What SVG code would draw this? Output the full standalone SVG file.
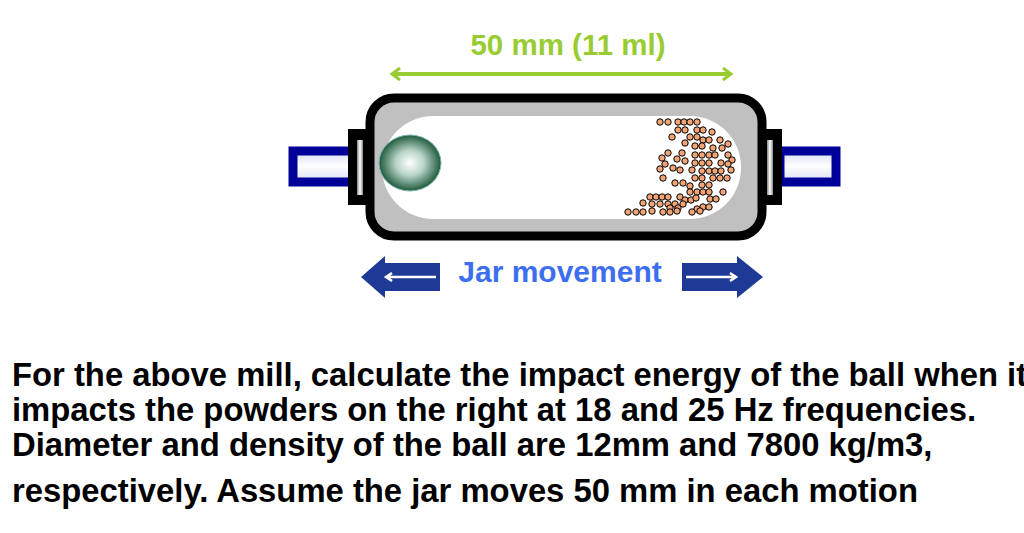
<svg xmlns="http://www.w3.org/2000/svg" width="1024" height="533" viewBox="0 0 1024 533">
<style>
.q{font-family:"Liberation Sans",Arial,sans-serif;font-weight:bold;font-size:32.8px;fill:#000}
.p{fill:#f2a474;stroke:#000;stroke-width:1}
</style>
<defs>
<radialGradient id="ball" cx="0.5" cy="0.5" r="0.5"><stop offset="0" stop-color="#ffffff"/><stop offset="0.45" stop-color="#b8d4c8"/><stop offset="1" stop-color="#1f5a3c"/></radialGradient>
<linearGradient id="shaft" x1="0" y1="0" x2="0" y2="1"><stop offset="0" stop-color="#d8dcf4"/><stop offset="0.5" stop-color="#ffffff"/><stop offset="1" stop-color="#d8dcf4"/></linearGradient>
<linearGradient id="strip" x1="0" y1="0" x2="1" y2="0"><stop offset="0" stop-color="#888"/><stop offset="0.5" stop-color="#fff"/><stop offset="1" stop-color="#888"/></linearGradient>
<marker id="ga" markerWidth="12" markerHeight="14" refX="9" refY="7" orient="auto-start-reverse" markerUnits="userSpaceOnUse" viewBox="0 0 12 14"><path d="M1,1 L9,7 L1,13" fill="none" stroke="#99cc33" stroke-width="3"/></marker>
</defs>
<g id="left-shaft"><rect x="293" y="151" width="60" height="31" fill="url(#shaft)" stroke="#000099" stroke-width="9"/></g>
<g id="right-shaft"><rect x="780" y="151" width="56" height="31" fill="url(#shaft)" stroke="#000099" stroke-width="9"/></g>
<g id="left-collar"><rect x="348" y="129" width="20" height="76" fill="#000"/><rect x="357" y="140" width="6" height="55" fill="url(#strip)"/></g>
<g id="right-collar"><rect x="764" y="129" width="18" height="76" fill="#000"/><rect x="767" y="140" width="6" height="55" fill="url(#strip)"/></g>
<g id="jar">
<rect x="370" y="98" width="392" height="138" rx="24" fill="#c0c0c0" stroke="#000" stroke-width="9"/>
<rect x="382" y="116" width="359" height="103" rx="51" fill="#fff"/>
</g>
<g id="ball-node"><ellipse cx="410" cy="163" rx="31" ry="28" fill="url(#ball)" stroke="#7fb8b0" stroke-width="1"/></g>
<g id="powder">
<circle class="p" cx="660" cy="122" r="3.2"/><circle class="p" cx="668" cy="122" r="3.2"/><circle class="p" cx="678" cy="122" r="3.2"/><circle class="p" cx="684" cy="122" r="3.2"/><circle class="p" cx="690" cy="122" r="3.2"/><circle class="p" cx="697" cy="122" r="3.2"/>
<circle class="p" cx="678" cy="130" r="3.2"/><circle class="p" cx="685" cy="130" r="3.2"/><circle class="p" cx="697" cy="130" r="3.2"/><circle class="p" cx="703" cy="130" r="3.2"/><circle class="p" cx="712" cy="132" r="3.2"/>
<circle class="p" cx="672" cy="137" r="3.2"/><circle class="p" cx="690" cy="137" r="3.2"/><circle class="p" cx="697" cy="137" r="3.2"/><circle class="p" cx="703" cy="140" r="3.2"/><circle class="p" cx="709" cy="140" r="3.2"/><circle class="p" cx="720" cy="140" r="3.2"/>
<circle class="p" cx="685" cy="143" r="3.2"/><circle class="p" cx="695" cy="146" r="3.2"/><circle class="p" cx="702" cy="146" r="3.2"/><circle class="p" cx="713" cy="148" r="3.2"/><circle class="p" cx="722" cy="148" r="3.2"/><circle class="p" cx="728" cy="144" r="3.2"/>
<circle class="p" cx="668" cy="153" r="3.2"/><circle class="p" cx="682" cy="153" r="3.2"/><circle class="p" cx="695" cy="155" r="3.2"/><circle class="p" cx="702" cy="155" r="3.2"/><circle class="p" cx="709" cy="155" r="3.2"/><circle class="p" cx="715" cy="155" r="3.2"/><circle class="p" cx="728" cy="155" r="3.2"/>
<circle class="p" cx="662" cy="158" r="3.2"/><circle class="p" cx="677" cy="159" r="3.2"/><circle class="p" cx="685" cy="161" r="3.2"/><circle class="p" cx="732" cy="160" r="3.2"/>
<circle class="p" cx="665" cy="164" r="3.2"/><circle class="p" cx="695" cy="163" r="3.2"/><circle class="p" cx="702" cy="163" r="3.2"/><circle class="p" cx="709" cy="163" r="3.2"/><circle class="p" cx="721" cy="163" r="3.2"/><circle class="p" cx="728" cy="164" r="3.2"/>
<circle class="p" cx="660" cy="169" r="3.2"/><circle class="p" cx="673" cy="168" r="3.2"/><circle class="p" cx="680" cy="170" r="3.2"/><circle class="p" cx="692" cy="170" r="3.2"/><circle class="p" cx="702" cy="171" r="3.2"/><circle class="p" cx="709" cy="171" r="3.2"/><circle class="p" cx="715" cy="171" r="3.2"/><circle class="p" cx="721" cy="171" r="3.2"/><circle class="p" cx="731" cy="170" r="3.2"/>
<circle class="p" cx="663" cy="178" r="3.2"/><circle class="p" cx="695" cy="178" r="3.2"/><circle class="p" cx="702" cy="178" r="3.2"/><circle class="p" cx="713" cy="178" r="3.2"/><circle class="p" cx="720" cy="178" r="3.2"/><circle class="p" cx="727" cy="178" r="3.2"/>
<circle class="p" cx="675" cy="183" r="3.2"/><circle class="p" cx="683" cy="183" r="3.2"/><circle class="p" cx="690" cy="186" r="3.2"/><circle class="p" cx="702" cy="185" r="3.2"/><circle class="p" cx="709" cy="185" r="3.2"/>
<circle class="p" cx="690" cy="192" r="3.2"/><circle class="p" cx="697" cy="192" r="3.2"/><circle class="p" cx="703" cy="192" r="3.2"/><circle class="p" cx="709" cy="192" r="3.2"/><circle class="p" cx="723" cy="192" r="3.2"/>
<circle class="p" cx="650" cy="197" r="3.2"/><circle class="p" cx="656" cy="197" r="3.2"/><circle class="p" cx="662" cy="197" r="3.2"/><circle class="p" cx="668" cy="197" r="3.2"/><circle class="p" cx="680" cy="197" r="3.2"/><circle class="p" cx="685" cy="200" r="3.2"/><circle class="p" cx="691" cy="200" r="3.2"/><circle class="p" cx="696" cy="198" r="3.2"/><circle class="p" cx="710" cy="199" r="3.2"/><circle class="p" cx="716" cy="199" r="3.2"/>
<circle class="p" cx="643" cy="203" r="3.2"/><circle class="p" cx="652" cy="204" r="3.2"/><circle class="p" cx="660" cy="204" r="3.2"/><circle class="p" cx="668" cy="204" r="3.2"/><circle class="p" cx="675" cy="204" r="3.2"/><circle class="p" cx="683" cy="204" r="3.2"/>
<circle class="p" cx="670" cy="208" r="3.2"/><circle class="p" cx="678" cy="208" r="3.2"/><circle class="p" cx="697" cy="209" r="3.2"/><circle class="p" cx="703" cy="207" r="3.2"/><circle class="p" cx="709" cy="207" r="3.2"/>
<circle class="p" cx="628" cy="212" r="3.2"/><circle class="p" cx="636" cy="212" r="3.2"/><circle class="p" cx="643" cy="212" r="3.2"/><circle class="p" cx="652" cy="211" r="3.2"/><circle class="p" cx="663" cy="212" r="3.2"/><circle class="p" cx="670" cy="212" r="3.2"/><circle class="p" cx="677" cy="211" r="3.2"/><circle class="p" cx="692" cy="212" r="3.2"/><circle class="p" cx="700" cy="211" r="3.2"/>
</g>
<g id="connectors">
<line x1="392" y1="74" x2="731" y2="74" stroke="#99cc33" stroke-width="4" marker-start="url(#ga)" marker-end="url(#ga)"/>
<path d="M440,263 L385,263 L385,256 L361,277 L385,298 L385,291 L440,291 Z" fill="#1e3a96"/>
<path d="M436,277 L386,277 M392,273 L386,277 L392,281" fill="none" stroke="#fff" stroke-width="2.5"/>
<path d="M682,263 L737,263 L737,256 L763,277 L737,298 L737,291 L682,291 Z" fill="#1e3a96"/>
<path d="M686,277 L736,277 M730,273 L736,277 L730,281" fill="none" stroke="#fff" stroke-width="2.5"/>
</g>
<text x="568" y="55" text-anchor="middle" font-family="Liberation Sans,Arial,sans-serif" font-weight="bold" font-size="29.5" fill="#99cc33">50 mm (11 ml)</text>
<text x="560" y="282" text-anchor="middle" font-family="Liberation Sans,Arial,sans-serif" font-weight="bold" font-size="30" fill="#3d6ef0">Jar movement</text>
<text class="q" x="12" y="386">For the above mill, calculate the impact energy of the ball when it</text>
<text class="q" x="12" y="421">impacts the powders on the right at 18 and 25 Hz frequencies.</text>
<text class="q" x="12" y="456">Diameter and density of the ball are 12mm and 7800 kg/m3,</text>
<text class="q" x="12" y="502">respectively. Assume the jar moves 50 mm in each motion</text>
</svg>
